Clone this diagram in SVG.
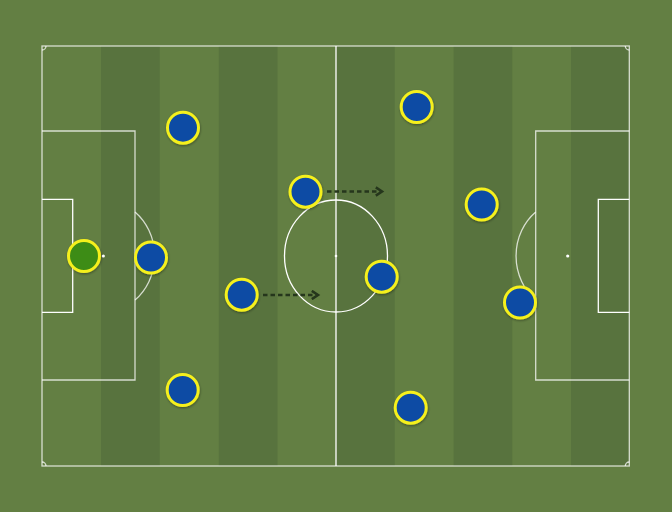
<svg xmlns="http://www.w3.org/2000/svg" width="672" height="512" viewBox="0 0 672 512">
<defs>
<style>
.stripe{fill:#58733e}
.line{fill:none;stroke:#ffffff;stroke-width:1.3}
.soft{stroke-opacity:0.75}
.spot{fill:#ffffff}
.player circle{stroke:#f5f01e;stroke-width:3}
.blue{fill:#0d4ca4}
.gk{fill:#3e8c14}
.run{fill:none;stroke:#25361c;stroke-width:2.6;stroke-dasharray:4.5 3}
</style>
<filter id="sh" x="-30%" y="-30%" width="160%" height="160%">
<feDropShadow dx="0.5" dy="1.2" stdDeviation="1" flood-color="#000" flood-opacity="0.35"/>
</filter>
<marker id="ah" viewBox="0 0 10 10" refX="6" refY="5" markerWidth="4" markerHeight="4" orient="auto" markerUnits="strokeWidth">
<path d="M1,1 L7,5 L1,9" fill="none" stroke="#25361c" stroke-width="2.4"/>
</marker>
</defs>
<rect width="672" height="512" fill="#637f43"/>
<g id="pitch">
<rect class="stripe" x="101" y="46" width="58.7" height="420"/>
<rect class="stripe" x="218.8" y="46" width="58.7" height="420"/>
<rect class="stripe" x="336" y="46" width="58.7" height="420"/>
<rect class="stripe" x="453.6" y="46" width="58.7" height="420"/>
<rect class="stripe" x="571" y="46" width="58.3" height="420"/>
<rect class="line soft" x="42" y="46" width="587.3" height="420"/>
<line class="line" x1="336" y1="46" x2="336" y2="466"/>
<ellipse class="line" cx="336" cy="256" rx="51.5" ry="56"/>
<circle class="spot" cx="336" cy="256" r="1.3"/>
<path class="line soft" d="M42,131 H135 V380 H42"/>
<path class="line" d="M42,199.3 H72.7 V312.3 H42"/>
<path class="line soft" d="M135,212 A51.5,56 0 0 1 135,300"/>
<circle class="spot" cx="103.3" cy="256" r="1.6"/>
<path class="line soft" d="M629.3,131 H535.7 V380 H629.3"/>
<path class="line" d="M629.3,199.3 H598.3 V312.3 H629.3"/>
<path class="line soft" d="M535.7,212 A51.5,56 0 0 0 535.7,300"/>
<circle class="spot" cx="567.7" cy="256" r="1.6"/>
<path class="line soft" d="M42,50 A4,4 0 0 0 46,46"/>
<path class="line soft" d="M625.3,46 A4,4 0 0 0 629.3,50"/>
<path class="line soft" d="M42,462 A4,4 0 0 1 46,466"/>
<path class="line soft" d="M625.3,466 A4,4 0 0 1 629.3,462"/>
</g>
<g id="connectors">
<line class="run" x1="327" y1="191.5" x2="381" y2="191.5" marker-end="url(#ah)"/>
<line class="run" x1="263" y1="295" x2="317" y2="295" marker-end="url(#ah)"/>
</g>
<g id="p-gk" class="player" filter="url(#sh)"><circle class="gk" cx="84" cy="256" r="15.5"/></g>
<g id="p-2" class="player" filter="url(#sh)"><circle class="blue" cx="151" cy="257.5" r="15.5"/></g>
<g id="p-3" class="player" filter="url(#sh)"><circle class="blue" cx="183" cy="127.7" r="15.5"/></g>
<g id="p-4" class="player" filter="url(#sh)"><circle class="blue" cx="182.7" cy="390" r="15.5"/></g>
<g id="p-5" class="player" filter="url(#sh)"><circle class="blue" cx="241.7" cy="294.7" r="15.5"/></g>
<g id="p-6" class="player" filter="url(#sh)"><circle class="blue" cx="305.5" cy="191.7" r="15.5"/></g>
<g id="p-7" class="player" filter="url(#sh)"><circle class="blue" cx="381.7" cy="276.7" r="15.5"/></g>
<g id="p-8" class="player" filter="url(#sh)"><circle class="blue" cx="416.7" cy="107" r="15.5"/></g>
<g id="p-9" class="player" filter="url(#sh)"><circle class="blue" cx="481.7" cy="204.5" r="15.5"/></g>
<g id="p-10" class="player" filter="url(#sh)"><circle class="blue" cx="520" cy="302.5" r="15.5"/></g>
<g id="p-11" class="player" filter="url(#sh)"><circle class="blue" cx="410.7" cy="407.7" r="15.5"/></g>
</svg>
